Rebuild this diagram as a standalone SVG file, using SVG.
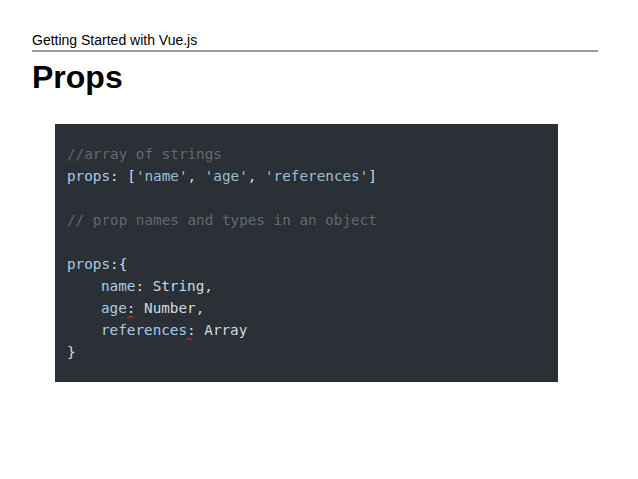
<svg xmlns="http://www.w3.org/2000/svg" width="638" height="479" viewBox="0 0 638 479">
<style>
.code{font-family:"DejaVu Sans Mono",monospace;font-size:14.3px;fill:#d4d9de}
.c{fill:#5f6a73}.k{fill:#a9cbe6}.s{fill:#9dbfd6}
</style>
<rect width="638" height="479" fill="#fff"/>
<text x="32" y="45" font-family="Liberation Sans,Arial,sans-serif" font-size="14" fill="#000">Getting Started with Vue.js</text>
<line x1="32" y1="51" x2="598" y2="51" stroke="#000" stroke-width="0.8"/>
<text x="32" y="88" font-family="Liberation Sans,Arial,sans-serif" font-size="32" font-weight="bold" fill="#000">Props</text>
<rect x="55" y="124" width="503" height="258" fill="#2b3036"/>
<g class="code">
<text x="67" y="159" class="c">//array of strings</text>
<text x="67" y="181"><tspan class="k">props</tspan>: [<tspan class="s">'name'</tspan>, <tspan class="s">'age'</tspan>, <tspan class="s">'references'</tspan>]</text>
<text x="67" y="225" class="c">// prop names and types in an object</text>
<text x="67" y="269"><tspan class="k">props</tspan>:{</text>
<text x="101" y="291"><tspan class="k">name</tspan>: String,</text>
<text x="101" y="313"><tspan class="k">age</tspan>: Number,</text>
<text x="101" y="335"><tspan class="k">references</tspan>: Array</text>
<text x="67" y="357">}</text>
</g>
<path d="M128 318 q3 -3 6 0 M186 340 q3 -3 6 0" stroke="#d02020" stroke-width="1.5" fill="none"/>
</svg>
